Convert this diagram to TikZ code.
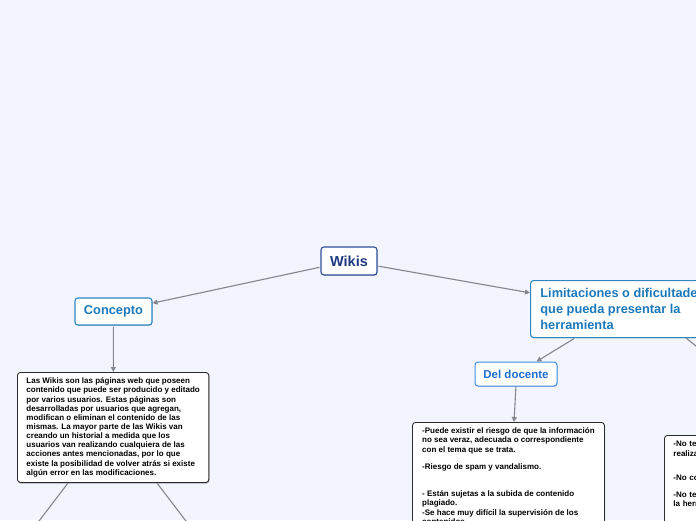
\documentclass[tikz,border=0pt]{standalone}
\usepackage{fontspec}
\setmainfont{Liberation Sans}
\usetikzlibrary{arrows.meta,shadows}
\definecolor{bg}{HTML}{F2F5FE}
\definecolor{conncol}{HTML}{85858F}
\definecolor{navyline}{HTML}{2F4E9A}
\definecolor{navytext}{HTML}{1F3A80}
\definecolor{blueline}{HTML}{2E86C1}
\definecolor{bluetext}{HTML}{1C78BC}
\definecolor{docline}{HTML}{3D8FE0}
\definecolor{doctext}{HTML}{1F6FD2}
\definecolor{boxline}{HTML}{2B2B2B}
\tikzset{
  topicbox/.style={draw, fill=white, rounded corners=3pt, line width=1.1pt, font=\bfseries,
    drop shadow={shadow xshift=0.5pt, shadow yshift=-0.8pt, opacity=0.18, fill=black}},
  notebox/.style={draw=boxline, fill=white, rounded corners=3pt, line width=0.9pt, align=left,
    inner xsep=9pt, anchor=north west, text=black,
    font=\bfseries\fontsize{8}{9.15}\selectfont,
    drop shadow={shadow xshift=0.6pt, shadow yshift=-1.2pt, opacity=0.3, fill=black}},
  conn/.style={draw=conncol, line width=1.1pt},
  arr/.style={conn, -{Triangle[length=5pt,width=5pt]}, shorten <=1pt}
}
\begin{document}
\begin{tikzpicture}[x=1pt,y=-1pt]
\clip (0,0) rectangle (696,520);
\fill[bg] (0,0) rectangle (696,520);

% main topic
\node[topicbox, draw=navyline, text=navytext, font=\bfseries\fontsize{14.5}{16}\selectfont,
  minimum width=56pt, minimum height=28pt, inner sep=0pt] (wikis) at (349,261) {Wikis};

% main branches
\node[topicbox, draw=blueline, text=bluetext, font=\bfseries\fontsize{12.8}{15}\selectfont,
  minimum width=77pt, minimum height=27pt, inner sep=0pt] (concepto) at (113.5,311.5) {Concepto};

\node[topicbox, draw=blueline, text=bluetext, font=\bfseries\fontsize{12.8}{16}\selectfont,
  anchor=north west, align=left, inner xsep=9pt, inner ysep=4pt,
  minimum width=184pt, minimum height=57pt] (lim) at (530,280)
  {Limitaciones o dificultades\\que pueda presentar la\\herramienta};

\node[topicbox, draw=docline, text=doctext, font=\bfseries\fontsize{11.5}{13}\selectfont,
  minimum width=82pt, minimum height=24pt, inner sep=0pt, line width=1pt] (docente) at (516,374) {Del docente};

% notes
\node[notebox, minimum width=191pt, minimum height=110pt] (ctext) at (17,372)
  {Las Wikis son las páginas web que poseen\\
   contenido que puede ser producido y editado\\
   por varios usuarios. Estas páginas son\\
   desarrolladas por usuarios que agregan,\\
   modifican o eliminan el contenido de las\\
   mismas. La mayor parte de las Wikis van\\
   creando un historial a medida que los\\
   usuarios van realizando cualquiera de las\\
   acciones antes mencionadas, por lo que\\
   existe la posibilidad de volver atrás si existe\\
   algún error en las modificaciones.};

\node[notebox, minimum width=192pt, inner ysep=5pt,
  font=\bfseries\fontsize{8}{9.4}\selectfont] (dtext) at (412,422)
  {-Puede existir el riesgo de que la información\\
   no sea veraz, adecuada o correspondiente\\
   con el tema que se trata.\\[8pt]
   -Riesgo de spam y vandalismo.\\[17.5pt]
   - Están sujetas a la subida de contenido\\
   plagiado.\\
   -Se hace muy difícil la supervisión de los\\
   contenidos.\\[20pt]\mbox{}};

\node[notebox, text width=174pt, inner ysep=6pt] (rtext) at (664,435)
  {-No tener\\
   realizar\\[14.8pt]
   -No contar\\[7.8pt]
   -No tener\\
   la herramienta\\[40pt]\mbox{}};

% free ends
\coordinate (limr) at (686,338);
\coordinate (offr) at (716,362);
\coordinate (cl) at (68,483);
\coordinate (cloff) at (36,525);
\coordinate (cr) at (157,483);
\coordinate (croff) at (189,525);

% connectors
\draw[arr] (wikis) -- (concepto);
\draw[arr] (wikis) -- (lim);
\draw[arr] (concepto) -- (ctext);
\draw[arr] (lim) -- (docente);
\draw[arr] (docente.south) ++(0,-1) -- (dtext.north -| 514,0);
\draw[conn] (limr) -- (offr);
\draw[conn] (cl) -- (cloff);
\draw[conn] (cr) -- (croff);
\end{tikzpicture}
\end{document}
